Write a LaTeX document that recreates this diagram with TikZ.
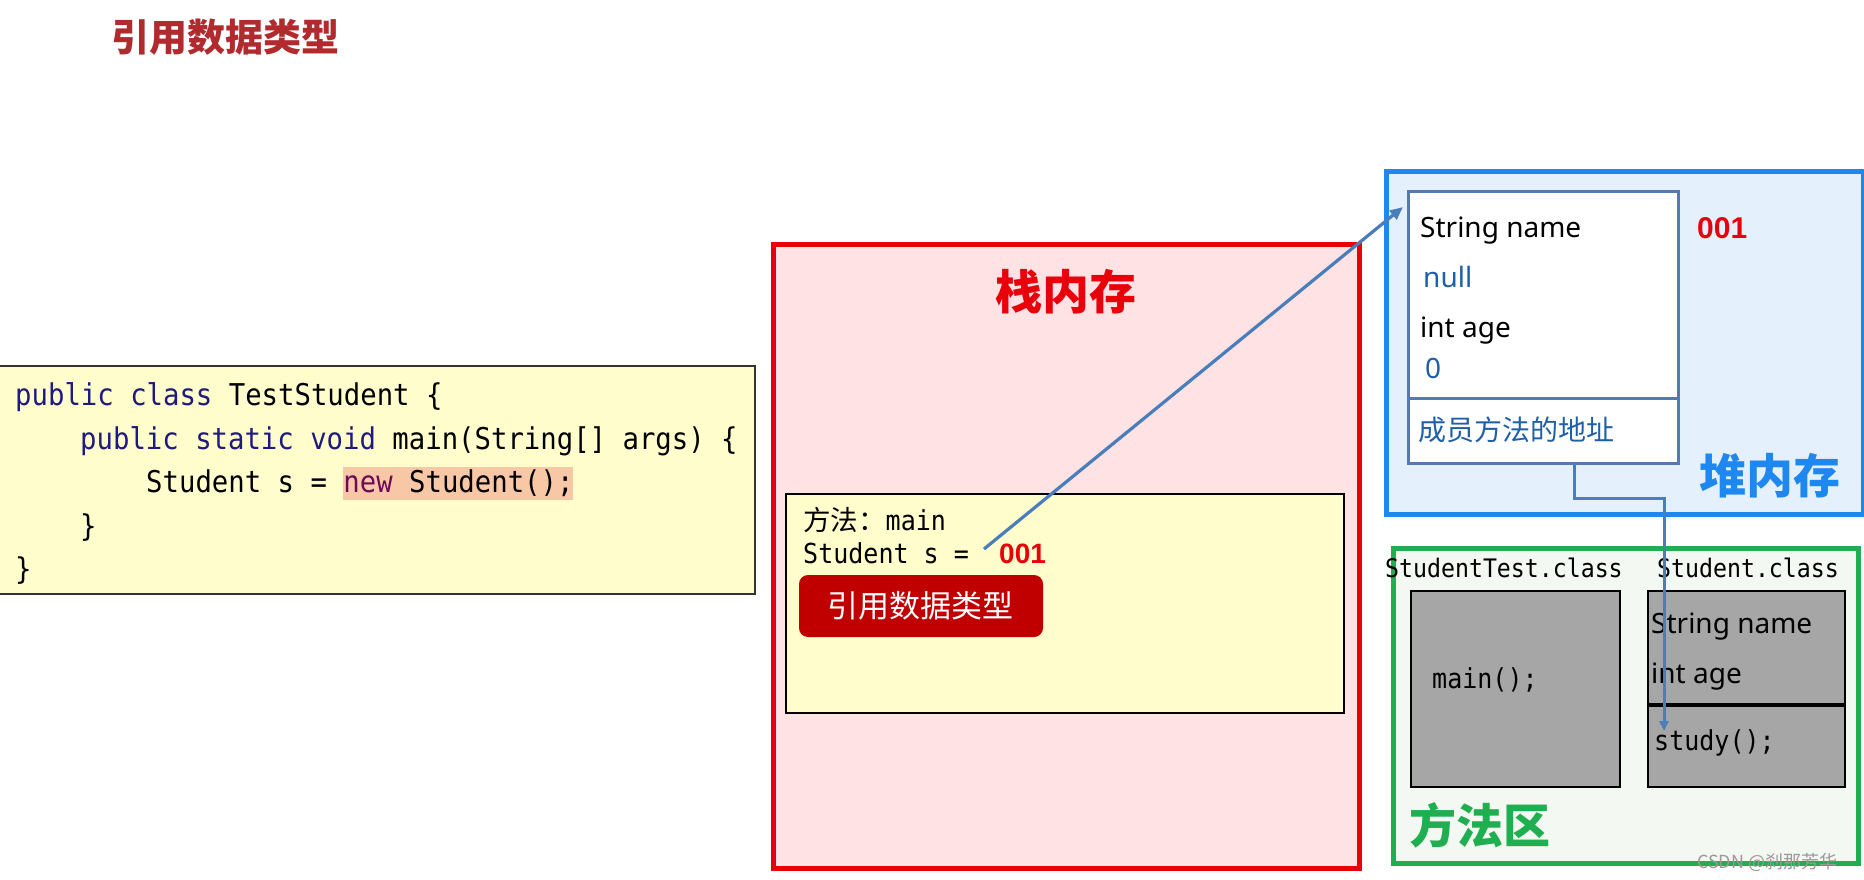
\documentclass[tikz,border=0pt]{standalone}
\usepackage{fontspec}
\setmainfont{Noto Sans}
\newfontfamily\cjk{Noto Sans CJK SC}
\newfontfamily\boldsans{Liberation Sans}
\newfontfamily\codefont[FakeStretch=0.91]{DejaVu Sans Mono}
\usetikzlibrary{arrows.meta}
\newcommand\myfs[1]{\fontsize{#1}{#1}\selectfont}
\definecolor{titlered}{HTML}{B02A2E}
\definecolor{codebg}{HTML}{FFFDCC}
\definecolor{kw}{HTML}{1F1A80}
\definecolor{kwnew}{HTML}{6E0A5A}
\definecolor{hl}{HTML}{F8C7A6}
\definecolor{stackbg}{HTML}{FFE2E3}
\definecolor{stackred}{HTML}{E8000B}
\definecolor{btnred}{HTML}{C00000}
\definecolor{heapbg}{HTML}{E4F1FC}
\definecolor{heapblue}{HTML}{1E88F0}
\definecolor{objblue}{HTML}{5679B2}
\definecolor{valblue}{HTML}{1F5FA6}
\definecolor{arrowblue}{HTML}{4A7EBB}
\definecolor{methbg}{HTML}{F4F8F2}
\definecolor{methgreen}{HTML}{1FAF50}
\definecolor{graybox}{HTML}{A6A6A6}
\begin{document}
\begin{tikzpicture}[x=1pt,y=-1pt,
  box/.style={draw, inner sep=0pt, outer sep=0pt, anchor=north west},
  codetxt/.style={anchor=base west, inner sep=0pt, font={\codefont\myfs{30}}},
  monotxt/.style={anchor=base west, inner sep=0pt, font={\codefont\myfs{27.5}}},
  sanstxt/.style={anchor=base west, inner sep=0pt, font={\myfs{28}}},
  cjkbig/.style={inner sep=0pt, font={\cjk\bfseries\myfs{47}}},
  addrtxt/.style={anchor=base west, inner sep=0pt, text=stackred},
  conn/.style={draw=arrowblue, line width=3.2pt, -{Triangle[length=13pt,width=11pt]}}
]
\fill[white] (0,0) rectangle (1864,880);
\useasboundingbox (0,0) rectangle (1864,880);

% title
\node[inner sep=0pt, font={\cjk\bfseries\myfs{38}}, text=titlered] (title) at (225,37) {引用数据类型};

% code box
\node[box, fill=codebg, draw=black!80, line width=2pt, minimum width=757pt, minimum height=228pt] (codebox) at (-2,366) {};
\node[box, draw=none, fill=hl, minimum width=230pt, minimum height=33pt] (hlbox) at (343,467) {};
\node[codetxt] (c1) at (15,405) {\textcolor{kw}{public} \textcolor{kw}{class} TestStudent \{};
\node[codetxt] (c2) at (80,449) {\textcolor{kw}{public} \textcolor{kw}{static} \textcolor{kw}{void} main(String[] args) \{};
\node[codetxt] (c3) at (146,492) {Student s = \textcolor{kwnew}{new} Student();};
\node[codetxt] (c4) at (80,536) {\}};
\node[codetxt] (c5) at (15,579) {\}};

% stack
\node[box, fill=stackbg, draw=stackred, line width=5pt, minimum width=586pt, minimum height=624pt] (stack) at (773,244) {};
\node[cjkbig, text=stackred] (stacktitle) at (1066,292) {栈内存};
\node[box, fill=codebg, draw=black, line width=2pt, minimum width=558pt, minimum height=219pt] (frame) at (786,494) {};
\node[monotxt] (m1) at (803,530) {{\cjk 方法：}main};
\node[monotxt] (m2) at (803,563) {Student s =};
\node[addrtxt, font={\boldsans\bfseries\myfs{28}}] (ref) at (999,563) {001};
\node[box, draw=none, fill=btnred, rounded corners=9pt, minimum width=244pt, minimum height=62pt] (btn) at (799,575) {};
\node[inner sep=0pt, font={\cjk\myfs{31}}, text=white] (btntxt) at (920,606) {引用数据类型};

% heap
\node[box, fill=heapbg, draw=heapblue, line width=5pt, minimum width=477pt, minimum height=342pt] (heap) at (1386,172) {};
\node[box, fill=white, draw=objblue, line width=3pt, minimum width=270pt, minimum height=272pt] (obj) at (1408,191) {};
\draw[objblue, line width=3pt] (obj.west |- 0,398) -- (obj.east |- 0,398);
\node[sanstxt] (h1) at (1420,237) {String name};
\node[sanstxt, text=valblue] (h2) at (1423,287) {null};
\node[sanstxt] (h3) at (1420,337) {int age};
\node[sanstxt, text=valblue] (h4) at (1425,378) {0};
\node[anchor=west, inner sep=0pt, font={\cjk\myfs{28}}, text=valblue] (h5) at (1418,430) {成员方法的地址};
\node[addrtxt, font={\boldsans\bfseries\myfs{30}}] (addr) at (1697,238) {001};
\node[cjkbig, text=heapblue] (heaptitle) at (1770,476) {堆内存};

% method area
\node[box, fill=methbg, draw=methgreen, line width=5pt, minimum width=465pt, minimum height=315pt] (meth) at (1393,548) {};
\node[monotxt, font={\codefont\myfs{25.5}}] (cls1) at (1385,577) {StudentTest.class};
\node[monotxt, font={\codefont\myfs{25.5}}] (cls2) at (1657,577) {Student.class};
\node[box, fill=graybox, draw=black, line width=2pt, minimum width=209pt, minimum height=196pt] (g1) at (1411,591) {};
\node[monotxt] (g1t) at (1432,688) {main();};
\node[box, fill=graybox, draw=black, line width=2pt, minimum width=197pt, minimum height=196pt] (g2) at (1648,591) {};
\draw[black, line width=3.5pt] (g2.west |- 0,705) -- (g2.east |- 0,705);
\node[sanstxt] (g2a) at (1651,633) {String name};
\node[sanstxt] (g2b) at (1651,683) {int age};
\node[monotxt] (g2c) at (1654,750) {study();};
\node[cjkbig, text=methgreen] (methtitle) at (1480,825) {方法区};
\node[anchor=west, inner sep=0pt, font={\cjk\myfs{18}}, text=black!40] (wm) at (1697,862) {CSDN @刹那芳华};

% connectors
\coordinate (sref) at (984,549);
\coordinate (objin) at (1403,207);
\draw[conn] (sref) -- (objin);
\coordinate (objout) at (1574,463);
\coordinate (study) at (1664,731);
\draw[conn, line width=3pt, -{Triangle[length=10pt,width=9pt]}] (objout) -- (1574,498) -- (1664,498) -- (study);
\end{tikzpicture}
\end{document}
